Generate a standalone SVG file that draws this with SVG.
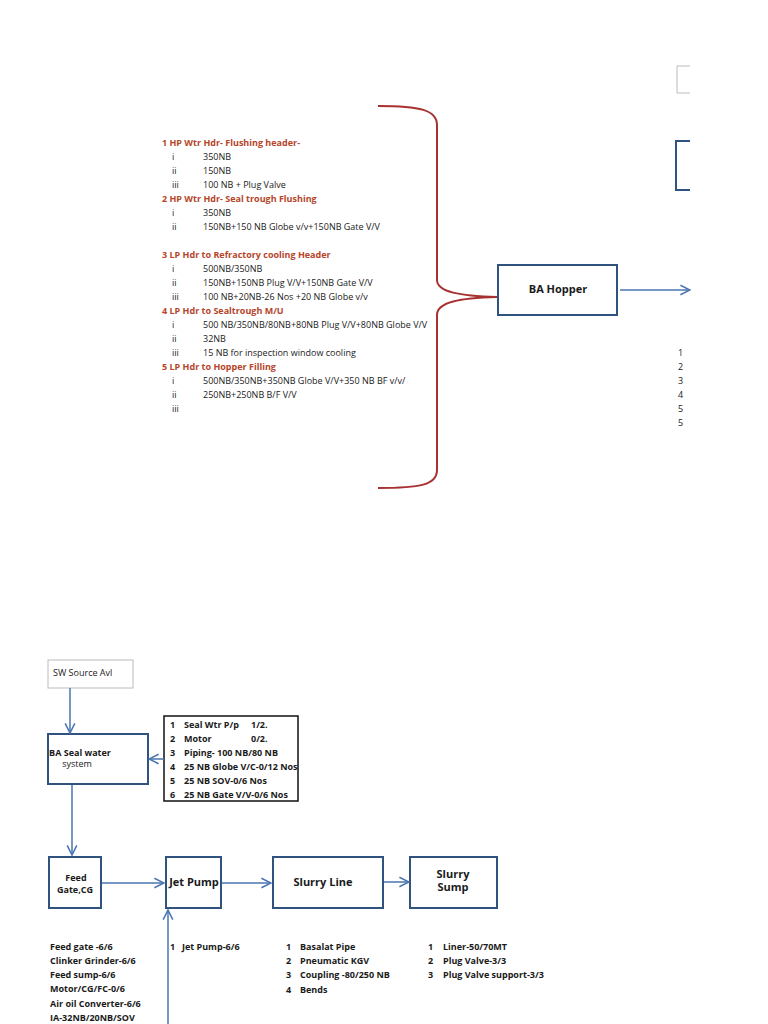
<svg xmlns="http://www.w3.org/2000/svg" width="768" height="1024" viewBox="0 0 768 1024">
<style>
text{font-family:"Open Sans","Liberation Sans",sans-serif;font-size:9px;fill:#1a1a1a}
.h{fill:#b5452a;font-weight:bold}
.b{font-weight:bold}
.box{fill:#fff;stroke:#2f527f;stroke-width:2}
.c{stroke:#4a76b0;stroke-width:1.5;fill:none}
.t{font-size:11px;font-weight:bold;text-anchor:middle}
</style>
<defs><marker id="a" viewBox="0 0 10 10" refX="9" refY="5" markerWidth="8" markerHeight="8" orient="auto"><path d="M1,1 L9,5 L1,9" fill="none" stroke="#4a76b0" stroke-width="1.3"/></marker></defs>
<rect width="768" height="1024" fill="#fff"/>
<g id="brace"><path d="M378,106 C420,106 437,110 437,125 L437,280 C437,292 460,296 497,297 C460,298 437,302 437,315 L437,470 C437,485 420,488 378,488" fill="none" stroke="#a83232" stroke-width="2"/></g>
<g id="list1">
<text x="162" y="146" class="h">1 HP Wtr Hdr- Flushing header-</text>
<text x="172" y="160">i</text><text x="203" y="160">350NB</text>
<text x="172" y="174">ii</text><text x="203" y="174">150NB</text>
<text x="172" y="188">iii</text><text x="203" y="188">100 NB + Plug Valve</text>
<text x="162" y="202" class="h">2 HP Wtr Hdr- Seal trough Flushing</text>
<text x="172" y="216">i</text><text x="203" y="216">350NB</text>
<text x="172" y="230">ii</text><text x="203" y="230">150NB+150 NB Globe v/v+150NB Gate V/V</text>
<text x="162" y="258" class="h">3 LP Hdr to Refractory cooling Header</text>
<text x="172" y="272">i</text><text x="203" y="272">500NB/350NB</text>
<text x="172" y="286">ii</text><text x="203" y="286">150NB+150NB Plug V/V+150NB Gate V/V</text>
<text x="172" y="300">iii</text><text x="203" y="300">100 NB+20NB-26 Nos +20 NB Globe v/v</text>
<text x="162" y="314" class="h">4 LP Hdr to  Sealtrough M/U</text>
<text x="172" y="328">i</text><text x="203" y="328">500 NB/350NB/80NB+80NB Plug V/V+80NB Globe V/V</text>
<text x="172" y="342">ii</text><text x="203" y="342">32NB</text>
<text x="172" y="356">iii</text><text x="203" y="356">15 NB  for inspection window cooling</text>
<text x="162" y="370" class="h">5 LP Hdr to Hopper Filling</text>
<text x="172" y="384">i</text><text x="203" y="384">500NB/350NB+350NB Globe V/V+350 NB BF v/v/</text>
<text x="172" y="398">ii</text><text x="203" y="398">250NB+250NB B/F V/V</text>
<text x="172" y="412">iii</text>
</g>
<g id="hopper"><rect x="498" y="265" width="119" height="50" class="box"/><text x="558" y="293" class="t">BA Hopper</text></g>
<g id="partial"><path d="M690,66 H677 V93 H690" fill="none" stroke="#bbb" stroke-width="1"/><path d="M690,141 H676 V190 H690" fill="none" stroke="#2f527f" stroke-width="2"/>
<text x="678" y="356">1</text><text x="678" y="370">2</text><text x="678" y="384">3</text><text x="678" y="398">4</text><text x="678" y="412">5</text><text x="678" y="426">5</text></g>
<g id="sw"><rect x="48" y="660" width="85" height="28" fill="#fff" stroke="#bbb"/><text x="53" y="676">SW Source Avl</text></g>
<g id="seal"><rect x="48" y="734" width="100" height="50" class="box"/><text x="80" y="756" class="b" font-size="9" text-anchor="middle" style="font-size:9px">BA Seal water</text><text x="77" y="767" text-anchor="middle">system</text></g>
<g id="seallist"><rect x="164" y="716" width="134" height="85" fill="#fff" stroke="#111" stroke-width="1.5"/>
<g class="b"><text x="170" y="728" class="b">1</text><text x="184" y="728" class="b">Seal Wtr P/p</text><text x="251" y="728">1/2.</text>
<text x="170" y="742" class="b">2</text><text x="184" y="742" class="b">Motor</text><text x="251" y="742">0/2.</text>
<text x="170" y="756" class="b">3</text><text x="184" y="756" class="b">Piping- 100 NB/80 NB</text>
<text x="170" y="770" class="b">4</text><text x="184" y="770" class="b">25 NB Globe V/C-0/12 Nos</text>
<text x="170" y="784" class="b">5</text><text x="184" y="784" class="b">25 NB SOV-0/6 Nos</text>
<text x="170" y="798" class="b">6</text><text x="184" y="798" class="b">25 NB Gate V/V-0/6 Nos</text></g></g>
<g id="feed"><rect x="49" y="857" width="52" height="51" class="box"/><text x="76" y="881" class="b" text-anchor="middle">Feed</text><text x="75" y="893" class="b" text-anchor="middle">Gate,CG</text></g>
<g id="jet"><rect x="166" y="857" width="55" height="51" class="box"/><text x="194" y="886" class="t">Jet Pump</text></g>
<g id="slurryline"><rect x="273" y="857" width="110" height="51" class="box"/><text x="323" y="886" class="t">Slurry Line</text></g>
<g id="sump"><rect x="410" y="857" width="87" height="51" class="box"/><text x="453" y="878" class="t">Slurry</text><text x="453" y="891" class="t">Sump</text></g>
<g id="connectors">
<line x1="620" y1="290" x2="690" y2="290" class="c" marker-end="url(#a)"/>
<line x1="70" y1="688" x2="70" y2="733" class="c" marker-end="url(#a)"/>
<line x1="164" y1="759" x2="149" y2="759" class="c" marker-end="url(#a)"/>
<line x1="72" y1="785" x2="72" y2="855" class="c" marker-end="url(#a)"/>
<line x1="102" y1="883" x2="164" y2="883" class="c" marker-end="url(#a)"/>
<line x1="222" y1="883" x2="271" y2="883" class="c" marker-end="url(#a)"/>
<line x1="384" y1="882" x2="409" y2="882" class="c" marker-end="url(#a)"/>
<line x1="168" y1="1024" x2="168" y2="910" class="c" marker-end="url(#a)"/>
</g>
<g id="lists2">
<g class="b"><text x="50" y="950" class="b">Feed gate -6/6</text><text x="50" y="964" class="b">Clinker Grinder-6/6</text><text x="50" y="978" class="b">Feed sump-6/6</text><text x="50" y="992" class="b">Motor/CG/FC-0/6</text><text x="50" y="1007" class="b">Air oil Converter-6/6</text><text x="50" y="1021" class="b">IA-32NB/20NB/SOV</text></g>
<text x="170" y="950" class="b">1</text><text x="182" y="950" class="b">Jet Pump-6/6</text>
<text x="286" y="950" class="b">1</text><text x="300" y="950" class="b">Basalat Pipe</text>
<text x="286" y="964" class="b">2</text><text x="300" y="964" class="b">Pneumatic KGV</text>
<text x="286" y="978" class="b">3</text><text x="300" y="978" class="b">Coupling -80/250 NB</text>
<text x="286" y="993" class="b">4</text><text x="300" y="993" class="b">Bends</text>
<text x="428" y="950" class="b">1</text><text x="443" y="950" class="b">Liner-50/70MT</text>
<text x="428" y="964" class="b">2</text><text x="443" y="964" class="b">Plug Valve-3/3</text>
<text x="428" y="978" class="b">3</text><text x="443" y="978" class="b">Plug Valve support-3/3</text>
</g>
</svg>
